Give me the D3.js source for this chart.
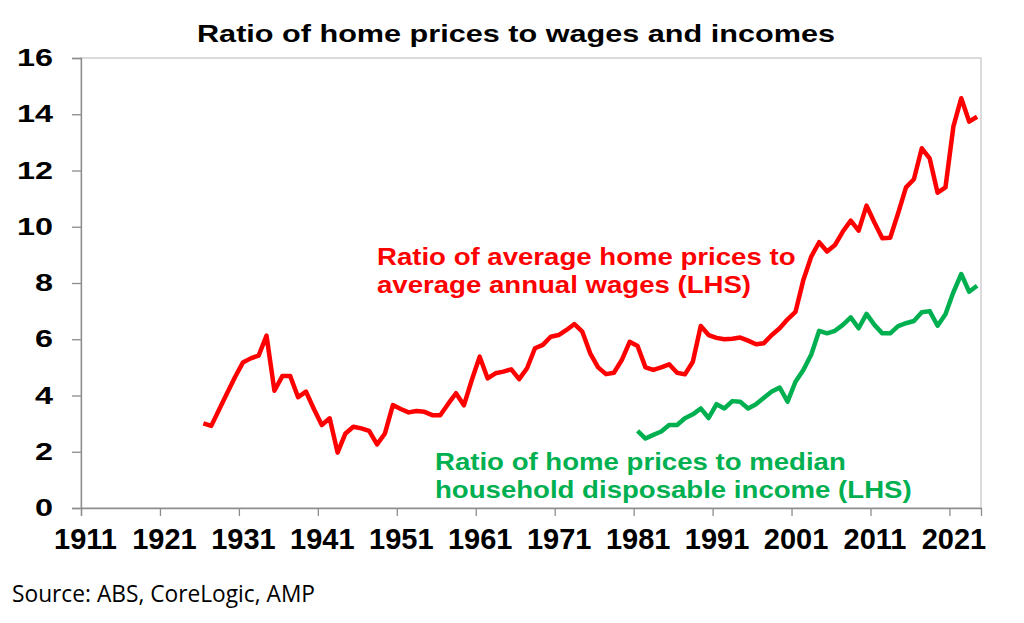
<!DOCTYPE html>
<html>
<head>
<meta charset="utf-8">
<script src="https://cdn.jsdelivr.net/npm/d3@7"></script>
<style>
  html, body { margin: 0; padding: 0; background: #fff; }
  svg { display: block; font-family: "Liberation Sans", Arial, sans-serif; }
</style>
</head>
<body>
<div id="chart"></div>
<script>
// Ratio of home prices to wages and incomes (annual)

const wageYears = d3.range(1926, 2025);
const wageRatio = [
  3.01, 2.92, 3.5, 4.08, 4.65, 5.17, 5.32, 5.42, 6.13, 4.17,
  4.69, 4.69, 3.94, 4.14, 3.52, 2.95, 3.19, 1.97, 2.65, 2.89,
  2.83, 2.74, 2.26, 2.65, 3.66, 3.52, 3.4, 3.45, 3.42, 3.3,
  3.3, 3.7, 4.08, 3.65, 4.55, 5.38, 4.61, 4.79, 4.85, 4.93,
  4.58, 4.97, 5.68, 5.8, 6.09, 6.15, 6.33, 6.54, 6.27, 5.5,
  5.0, 4.76, 4.81, 5.26, 5.91, 5.76, 5.0, 4.91, 5.0, 5.11,
  4.81, 4.75, 5.2, 6.47, 6.15, 6.05, 6.0, 6.02, 6.06, 5.95,
  5.82, 5.86, 6.15, 6.39, 6.71, 6.97, 8.11, 8.94, 9.45, 9.12,
  9.35, 9.83, 10.22, 9.86, 10.75, 10.15, 9.59, 9.61, 10.48, 11.4,
  11.69, 12.79, 12.43, 11.21, 11.4, 13.56, 14.57, 13.74, 13.91
];

const incomeYears = d3.range(1981, 2025);
const incomeRatio = [
  2.74, 2.47, 2.6, 2.72, 2.95, 2.95, 3.19, 3.33, 3.54, 3.2,
  3.69, 3.54, 3.8, 3.78, 3.54, 3.69, 3.92, 4.14, 4.28, 3.78,
  4.49, 4.91, 5.46, 6.3, 6.21, 6.3, 6.51, 6.78, 6.39, 6.9,
  6.51, 6.21, 6.21, 6.47, 6.57, 6.65, 6.96, 7.0, 6.48, 6.89,
  7.67, 8.32, 7.69, 7.9
];

const xTickYears = d3.range(1911, 2022, 10);
const yTicks = d3.range(0, 17, 2);

const title = "Ratio of home prices to wages and incomes";
const wageLabel = ["Ratio of average home prices to", "average annual wages (LHS)"];
const incomeLabel = ["Ratio of home prices to median", "household disposable income (LHS)"];
const source = "Source: ABS, CoreLogic, AMP";

const RED = "#ff0000";
const GREEN = "#00b050";

const width = 1024, height = 623;
const margin = { top: 58, right: 43, bottom: 115, left: 81 };

const svg = d3.select("#chart").append("svg")
  .attr("width", width)
  .attr("height", height);

// annual points sit in the middle of each year
const x = d3.scaleLinear()
  .domain([1911, 2025])
  .range([margin.left, width - margin.right]);
const y = d3.scaleLinear()
  .domain([0, 16])
  .range([height - margin.bottom, margin.top]);

// plot frame (light border on top/right)
svg.append("rect")
  .attr("x", margin.left)
  .attr("y", margin.top)
  .attr("width", width - margin.left - margin.right)
  .attr("height", height - margin.top - margin.bottom)
  .attr("fill", "none")
  .attr("stroke", "#c8c8c8")
  .attr("stroke-width", 1.3);

// y axis (labels are drawn a bit wide, like the original)
const yStretch = 1.35;
const yAxis = svg.append("g")
  .attr("transform", `translate(${margin.left},0)`)
  .call(d3.axisLeft(y).tickValues(yTicks).tickSize(9).tickPadding(19).tickFormat(d3.format("d")));
yAxis.select(".domain").attr("stroke", "#8c8c8c").attr("stroke-width", 1.3);
yAxis.selectAll(".tick line").attr("stroke", "#8c8c8c").attr("stroke-width", 1.3);
yAxis.selectAll(".tick text")
  .attr("font-family", "Liberation Sans, Arial, sans-serif")
  .attr("font-size", 24)
  .attr("font-weight", "bold")
  .attr("fill", "#000")
  .attr("x", -28 / yStretch)
  .attr("transform", `scale(${yStretch},1)`);

// x axis
const xAxis = svg.append("g")
  .attr("transform", `translate(0,${height - margin.bottom})`)
  .call(d3.axisBottom(x).tickValues(xTickYears).tickSize(8).tickPadding(12).tickFormat(d3.format("d")));
xAxis.select(".domain").attr("stroke", "#8c8c8c").attr("stroke-width", 1.3);
xAxis.selectAll(".tick line").attr("stroke", "#8c8c8c").attr("stroke-width", 1.3);
xAxis.selectAll(".tick text")
  .attr("font-family", "Liberation Sans, Arial, sans-serif")
  .attr("font-size", 29)
  .attr("font-weight", "bold")
  .attr("fill", "#000")
  .attr("dx", 4);

// lines
const line = d3.line()
  .x(d => x(d[0] + 0.5))
  .y(d => y(d[1]));

const wageData = wageYears.map((yr, i) => [yr, wageRatio[i]]);
const incomeData = incomeYears.map((yr, i) => [yr, incomeRatio[i]]);

svg.append("path")
  .datum(wageData)
  .attr("d", line)
  .attr("fill", "none")
  .attr("stroke", RED)
  .attr("stroke-width", 4.5)
  .attr("stroke-linejoin", "round");

svg.append("path")
  .datum(incomeData)
  .attr("d", line)
  .attr("fill", "none")
  .attr("stroke", GREEN)
  .attr("stroke-width", 4.5)
  .attr("stroke-linejoin", "round");

// title
svg.append("text")
  .attr("x", 197)
  .attr("y", 42)
  .attr("font-size", 24)
  .attr("font-weight", "bold")
  .attr("fill", "#000")
  .attr("textLength", 638)
  .attr("lengthAdjust", "spacingAndGlyphs")
  .text(title);

// series labels, stretched horizontally like the original
function label(lines, x0, y0, color) {
  const t = svg.append("text")
    .attr("transform", `translate(${x0},${y0}) scale(1.2,1)`)
    .attr("font-size", 23)
    .attr("font-weight", "bold")
    .attr("fill", color);
  lines.forEach((s, i) => {
    t.append("tspan").attr("x", 0).attr("y", i * 28).text(s);
  });
}
label(wageLabel, 377, 265, RED);
label(incomeLabel, 435, 470, GREEN);

// source
svg.append("text")
  .attr("x", 12)
  .attr("y", 602)
  .attr("font-family", "Liberation Sans Narrow, Open Sans, sans-serif")
  .attr("font-size", 24)
  .attr("fill", "#000")
  .attr("textLength", 303)
  .attr("lengthAdjust", "spacingAndGlyphs")
  .text(source);
</script>
</body>
</html>
